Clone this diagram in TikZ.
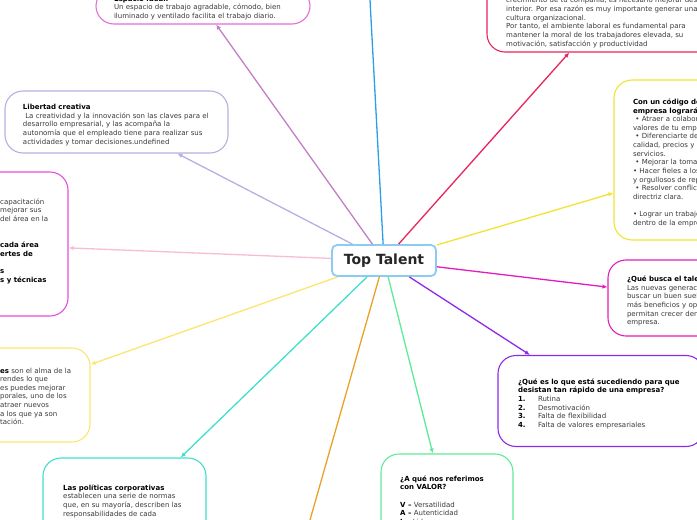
\documentclass[tikz,border=0pt]{standalone}
\usepackage{fontspec}
\setmainfont{DejaVu Sans}
\usetikzlibrary{arrows.meta}

\definecolor{tblue}{HTML}{8CCBF2}
\definecolor{lblue}{HTML}{2B9FE6}
\definecolor{mauve}{HTML}{C27EC6}
\definecolor{orchid}{HTML}{E46FD6}
\definecolor{crim}{HTML}{E8245C}
\definecolor{lavend}{HTML}{B7AEE3}
\definecolor{pinkl}{HTML}{F7BCD8}
\definecolor{orchidb}{HTML}{E250E0}
\definecolor{yel}{HTML}{F2E234}
\definecolor{magb}{HTML}{E21CBE}
\definecolor{violb}{HTML}{8B2BEA}
\definecolor{yell}{HTML}{FCE570}
\definecolor{turq}{HTML}{3EE0CC}
\definecolor{orng}{HTML}{E8A22A}
\definecolor{mint}{HTML}{5EEA98}
\definecolor{txtgray}{HTML}{3A3A3A}

\newcommand\bodyfont{\fontsize{7}{8.65}\selectfont}
\newcommand\hd[1]{\textcolor{black}{\textbf{#1}}}
\newcommand\padtop[1]{\rule{0pt}{#1}}

\begin{document}
\begin{tikzpicture}[x=1pt,y=-1pt,>={Latex[length=5pt,width=4.5pt]},
  topic/.style={draw,rounded corners=18pt,line width=1.1pt,fill=white,align=left,inner sep=0pt,font=\bodyfont,text=txtgray},
  txt/.style={anchor=north west,align=left,inner sep=0pt,font=\bodyfont,text=txtgray},
  link/.style={->,line width=1.3pt}]
  \useasboundingbox (0,0) rectangle (697,520);
  \clip (0,0) rectangle (697,520);

  % centro
  \node[draw=tblue,line width=1.8pt,rounded corners=5pt,fill=white,minimum width=104pt,minimum height=31pt,
    font=\fontsize{14}{16}\selectfont\bfseries,text=black!85] (talent) at (384,260.5) {Top Talent};

  % ramas de arriba
  \node[topic,draw=orchid,minimum width=214pt,minimum height=36pt,text width=178pt] (espacio) at (203,6)
    {\padtop{9.3pt}\hd{Espacio ideal:}\\Un espacio de trabajo agradable, cómodo, bien\\iluminado y ventilado facilita el trabajo diario.};
  \node[topic,draw=crim,minimum width=240pt,minimum height=84pt] (ambiente) at (607,10) {};
  \node[txt] at (506,-3) {crecimiento de tu compañía, es necesario mejorar des\\interior. Por esa razón es muy importante generar una\\cultura organizacional.\\Por tanto, el ambiente laboral es fundamental para\\mantener la moral de los trabajadores elevada, su\\motivación, satisfacción y productividad};
  \node[topic,draw=lavend,minimum width=223pt,minimum height=62pt,text width=187pt] (libertad) at (116.5,122)
    {\padtop{11.3pt}\hd{Libertad creativa}\\\ La creatividad y la innovación son las claves para el\\desarrollo empresarial, y las acompaña la\\autonomía que el empleado tiene para realizar sus\\actividades y tomar decisiones.undefined};

  % ramas de la izquierda
  \node[topic,draw=orchidb,minimum width=194pt,minimum height=144pt] (formacion) at (-29,244) {};
  \node[txt] at (0,198.5) {capacitación\\mejorar sus\\del área en la\\[17.3pt]\hd{cada área}\\\hd{ertes de}\\[8.65pt]\hd{s}\\\hd{s y técnicas}};
  \node[topic,draw=yell,minimum width=172pt,minimum height=94pt] (equipo) at (4,395) {};
  \node[txt] at (0,367.5) {\hd{es} son el alma de la\\rendes lo que\\es puedes mejorar\\porales, uno de los\\atraer nuevos\\a los que ya son\\tación.};

  % ramas de la derecha
  \node[topic,draw=yel,minimum width=224pt,minimum height=160pt,text width=186pt] (codigo) at (726,160)
    {\padtop{11.3pt}\hd{Con un código de}\\\hd{empresa lograrás}\\\ • Atraer a colabor\\valores de tu emp\\\ • Diferenciarte de\\calidad, precios y\\servicios.\\\ • Mejorar la toma\\• Hacer fieles a los\\y orgullosos de rep\\\ • Resolver conflic\\directriz clara.\\[8.65pt]• Lograr un trabajo\\dentro de la empre};
  \node[topic,draw=magb,minimum width=182pt,minimum height=76pt,text width=144pt] (busca) at (699,298)
    {\padtop{12pt}\hd{¿Qué busca el tale}\\Las nuevas generac\\buscar un buen suel\\más beneficios y op\\permitan crecer den\\empresa.};
  \node[topic,draw=violb,minimum width=206pt,minimum height=91pt,text width=166pt] (desisten) at (601,401)
    {\padtop{11.3pt}\hd{¿Qué es lo que está sucediendo para que}\\\hd{desistan tan rápido de una empresa?}\\
     \makebox[20pt][l]{\hd{1.}}Rutina\\\makebox[20pt][l]{\hd{2.}}Desmotivación\\
     \makebox[20pt][l]{\hd{3.}}Falta de flexibilidad\\\makebox[20pt][l]{\hd{4.}}Falta de valores empresariales};

  % ramas de abajo
  \node[topic,draw=turq,minimum width=163pt,minimum height=108pt] (politicas) at (124.5,512) {};
  \node[txt] at (63,484.5) {\hd{Las políticas corporativas}\\establecen una serie de normas\\que, en su mayoría, describen las\\responsabilidades de cada};
  \node[topic,draw=mint,minimum width=132pt,minimum height=112pt] (valor) at (447,510) {};
  \node[txt] at (400,475.5) {\hd{¿A qué nos referimos}\\\hd{con VALOR?}\\[8.65pt]\hd{V –} Versatilidad\\\hd{A –} Autenticidad\\\hd{L –} Liderazgo};
  \coordinate (arriba) at (369.2,-15);
  \coordinate (abajo) at (305.7,535);

  % conectores
  \draw[link,mauve] (talent) -- (espacio);
  \draw[line width=1.3pt,lblue] (talent) -- (arriba);
  \draw[link,crim] (talent) -- (ambiente);
  \draw[link,lavend] (talent) -- (libertad);
  \draw[link,pinkl] (talent) -- (formacion);
  \draw[link,yell] (talent) -- (equipo);
  \draw[link,yel] (talent) -- (codigo);
  \draw[link,magb] (talent) -- (busca);
  \draw[link,violb] (talent) -- (desisten);
  \draw[link,turq] (talent) -- (politicas);
  \draw[link,mint] (talent) -- (valor);
  \draw[line width=1.3pt,orng] (talent) -- (abajo);
\end{tikzpicture}
\end{document}
